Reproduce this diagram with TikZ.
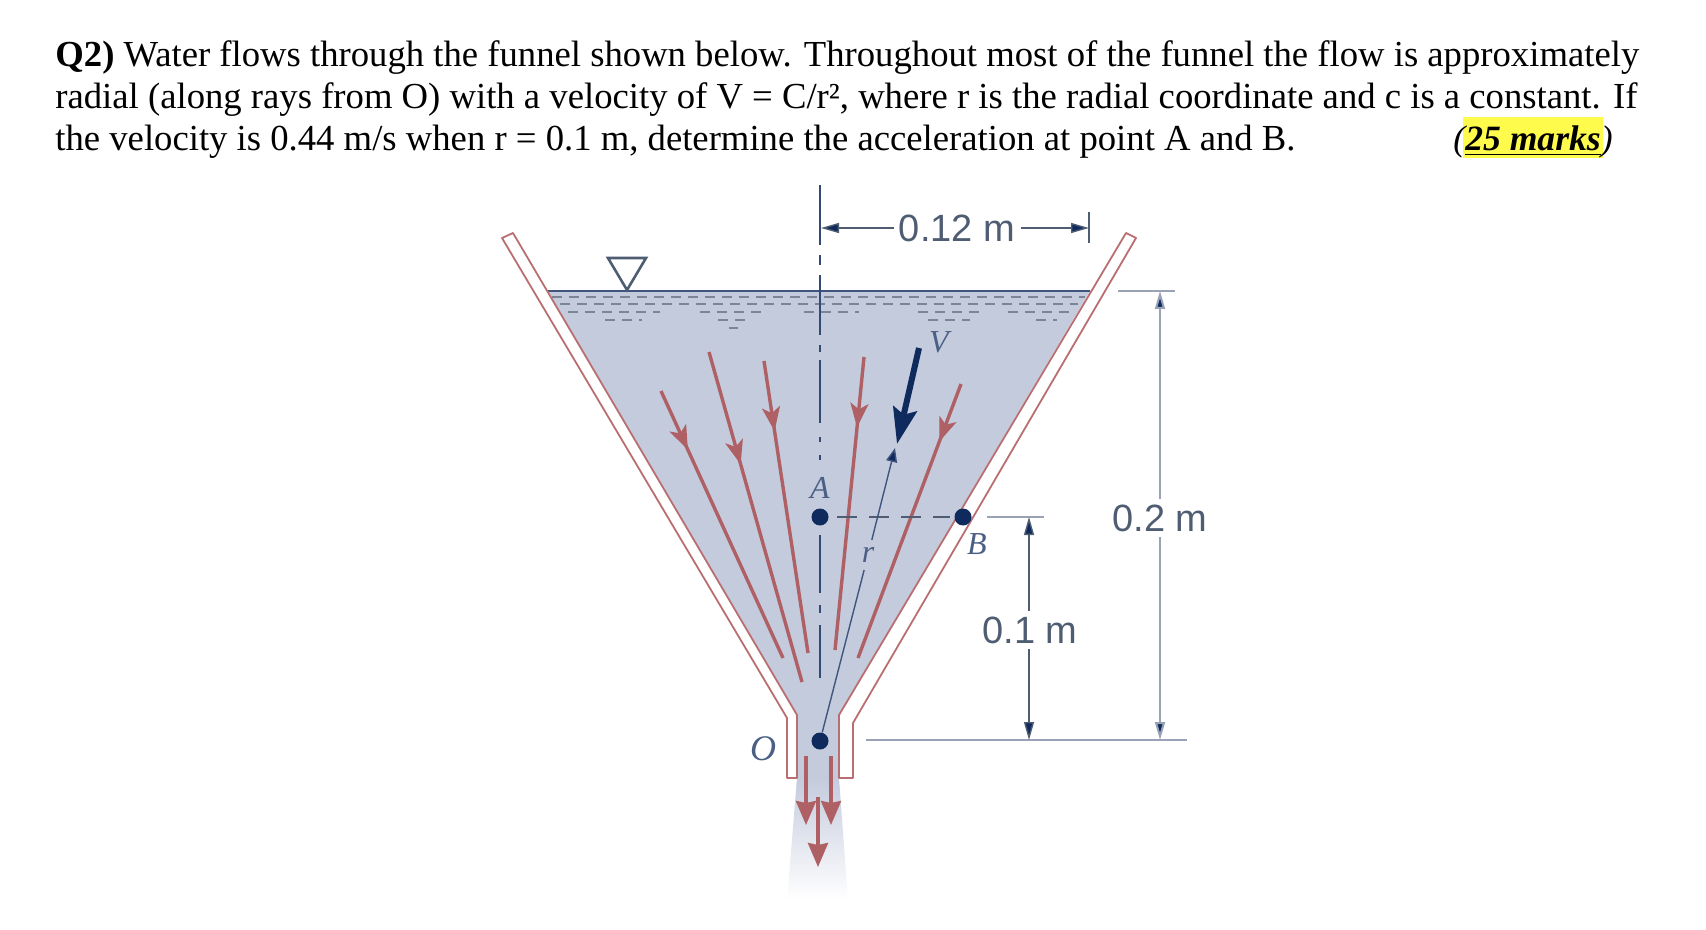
\documentclass[tikz,border=0pt]{standalone}
\usepackage{fontspec}
\setmainfont{Liberation Serif}
\newfontfamily\dimfont{Liberation Sans}
\usetikzlibrary{arrows.meta}
\usetikzlibrary{decorations.markings}

\definecolor{waterblue}{HTML}{C4CBDD}
\definecolor{wallred}{HTML}{B96F72}
\definecolor{rayred}{HTML}{AE6064}
\definecolor{navy}{HTML}{0F2A5C}
\definecolor{dimgrey}{HTML}{4F5D73}
\definecolor{dimline}{HTML}{9AA3B5}
\definecolor{marker}{HTML}{FFFB4D}

\tikzset{
  textline/.style={anchor=base west,inner sep=0pt,font=\fontsize{18.34}{20}\selectfont},
  wall/.style={draw=wallred,fill=white,line width=0.9pt,line join=round},
  ray/.style={draw=rayred,line width=1.7pt,postaction=decorate,
    decoration={markings,mark=at position #1 with {\arrow[rayred]{Stealth[length=12pt,width=9pt,inset=3pt]}}}},
  jetray/.style={draw=rayred,line width=1.7pt,-{Stealth[length=12pt,width=10pt,inset=1pt]}},
  dot/.style={circle,fill=navy,inner sep=0pt,minimum size=8.5pt},
  dimtext/.style={font=\dimfont\fontsize{19}{22}\selectfont,text=dimgrey,inner sep=2.5pt},
  lettertext/.style={font=\itshape\fontsize{16}{18}\selectfont,text=navy!75,inner sep=0pt},
  dimtick/.style={draw=dimline,line width=1pt},
  dimarrow/.style={draw=dimgrey,line width=0.7pt,-{Stealth[length=9pt,width=5pt,inset=0pt,fill=navy]}},
  paledim/.style={draw=dimline,line width=1pt,-{Stealth[length=9pt,width=5pt,inset=0pt,fill=navy]}},
  ripple/.style={draw=dimgrey!75,line width=0.8pt,dash pattern=on 5pt off 3.5pt}
}

\begin{document}
\begin{tikzpicture}[x=0.5pt,y=-0.5pt]
    \path[use as bounding box] (0,0) rectangle (1706,930);

    % Question text
    \node[textline] (line1) at (55,67) {\textbf{Q2)} Water flows through the funnel shown below. Throughout most of the funnel the flow is approximately};
    \node[textline] (line2) at (55,109) {radial (along rays from O) with a velocity of V = C/r², where r is the radial coordinate and c is a constant. If};
    \node[textline] (line3) at (55,151) {the velocity is 0.44 m/s when r = 0.1 m, determine the acceleration at point A and B.};
    \fill[marker] (1463,117) rectangle (1603,158);
    \node[textline,font=\fontsize{17.8}{20}\selectfont] (marks) at (1453,151) {\textit{(\underline{\textbf{25 marks}})}};

    % Water and the jet below the funnel
    \shade[top color=waterblue,bottom color=white] (797,778) -- (839,778) -- (848,900) -- (787,900) -- cycle;
    \fill[waterblue] (547,291) -- (1090,291) -- (839,715) -- (839,778) -- (797,778) -- (797,715) -- cycle;

    % Ripples under the free surface
    \draw[ripple] (552,297) -- (1085,297);
    \draw[ripple] (560,304) -- (1078,304);
    \foreach \xa/\xb in {568/660,700/767,804/859,918/981,1008/1069}
        \draw[ripple] (\xa,312) -- (\xb,312);
    \foreach \xa/\xb in {605/642,718/747,928/970,1036/1057}
        \draw[ripple] (\xa,320) -- (\xb,320);
    \draw[ripple] (729,328) -- (738,328);
    \draw[navy!80,line width=1.3pt] (547,291) -- (1090,291);

    % Funnel walls
    \draw[wall] (513,233) -- (797,715) -- (797,778) -- (787,778) -- (787,718) -- (502,238) -- cycle;
    \draw[wall] (1126,233) -- (839,715) -- (839,778) -- (853,778) -- (853,723) -- (1136,238) -- cycle;

    % Surface marker
    \draw[dimgrey,line width=1.3pt,line join=miter] (608,258) -- (646,258) -- (627,290) -- cycle;

    % Streamlines
    \draw[ray=.22] (661,391) -- (783,658);
    \draw[ray=.34] (709,352) -- (802,682);
    \draw[ray=.24] (764,361) -- (808,653);
    \draw[ray=.24] (864,357) -- (835,650);
    \draw[ray=.21] (961,384) -- (858,658);
    \draw[jetray] (806,756) -- (806,825);
    \draw[jetray] (831,756) -- (831,825);
    \draw[jetray] (818,797) -- (818,867);

    % Centre line
    \foreach \ya/\yb in {185/245,255/265,275/335,345/352,360/423,437/442,455/460,535/593,605/613,625/678}
        \draw[navy!85,line width=1pt] (820,\ya) -- (820,\yb);

    % Points
    \node[dot] (ptA) at (820,517) {};
    \node[dot] (ptB) at (963,517) {};
    \node[dot] (ptO) at (820,741) {};
    \node[lettertext] (lblA) at (820,488) {A};
    \node[lettertext] (lblB) at (977,544) {B};
    \node[lettertext,font=\itshape\fontsize{18}{20}\selectfont] (lblO) at (763,749) {O};
    \node[lettertext,inner sep=3.5pt] (lblr) at (868,555) {r};
    \draw[dimgrey,line width=0.7pt,dash pattern=on 10pt off 6pt,shorten <=4pt,shorten >=2pt] (ptA) -- (ptB);

    % Velocity and radius
    \coordinate (tipV) at (897,444);
    \coordinate (tailV) at (919,348);
    \coordinate (tipr) at (895,448);
    \node[lettertext] (lblV) at (939,342) {V};
    \draw[navy!80,line width=0.7pt] (ptO) -- (lblr);
    \draw[navy!80,line width=0.7pt,-{Stealth[length=7pt,width=5.5pt,inset=0pt,fill=navy]}] (lblr) -- (tipr);
    \draw[navy,line width=3pt,-{Stealth[length=18pt,width=12pt,inset=3pt]}] (tailV) -- (tipV);

    % Dimension 0.12 m
    \node[dimtext] (dimTop) at (957,228) {0.12 m};
    \coordinate (topL) at (821,228);
    \coordinate (topR) at (1089,228);
    \draw[dimarrow] (dimTop) -- (topL);
    \draw[dimarrow] (dimTop) -- (topR);
    \draw[dimgrey,line width=0.7pt] (1089,212) -- (1089,243);

    % Extension lines
    \coordinate (levelA) at (1118,291);
    \coordinate (levelB) at (1175,291);
    \coordinate (midA) at (987,517);
    \coordinate (midB) at (1044,517);
    \coordinate (baseA) at (866,740);
    \coordinate (baseB) at (1187,740);
    \draw[dimtick] (levelA) -- (levelB);
    \draw[dimtick] (midA) -- (midB);
    \draw[dimtick] (baseA) -- (baseB);

    % Dimension 0.1 m
    \node[dimtext] (dimLow) at (1030,630) {0.1 m};
    \coordinate (lowT) at (1029,517);
    \coordinate (lowB) at (1029,740);
    \draw[dimarrow] (dimLow.north -| lowT) -- (lowT);
    \draw[dimarrow] (dimLow.south -| lowT) -- (lowB);

    % Dimension 0.2 m
    \node[dimtext] (dimAll) at (1160,518) {0.2 m};
    \coordinate (allT) at (1160,291);
    \coordinate (allB) at (1160,740);
    \draw[paledim] (dimAll) -- (allT);
    \draw[paledim] (dimAll) -- (allB);
\end{tikzpicture}
\end{document}
